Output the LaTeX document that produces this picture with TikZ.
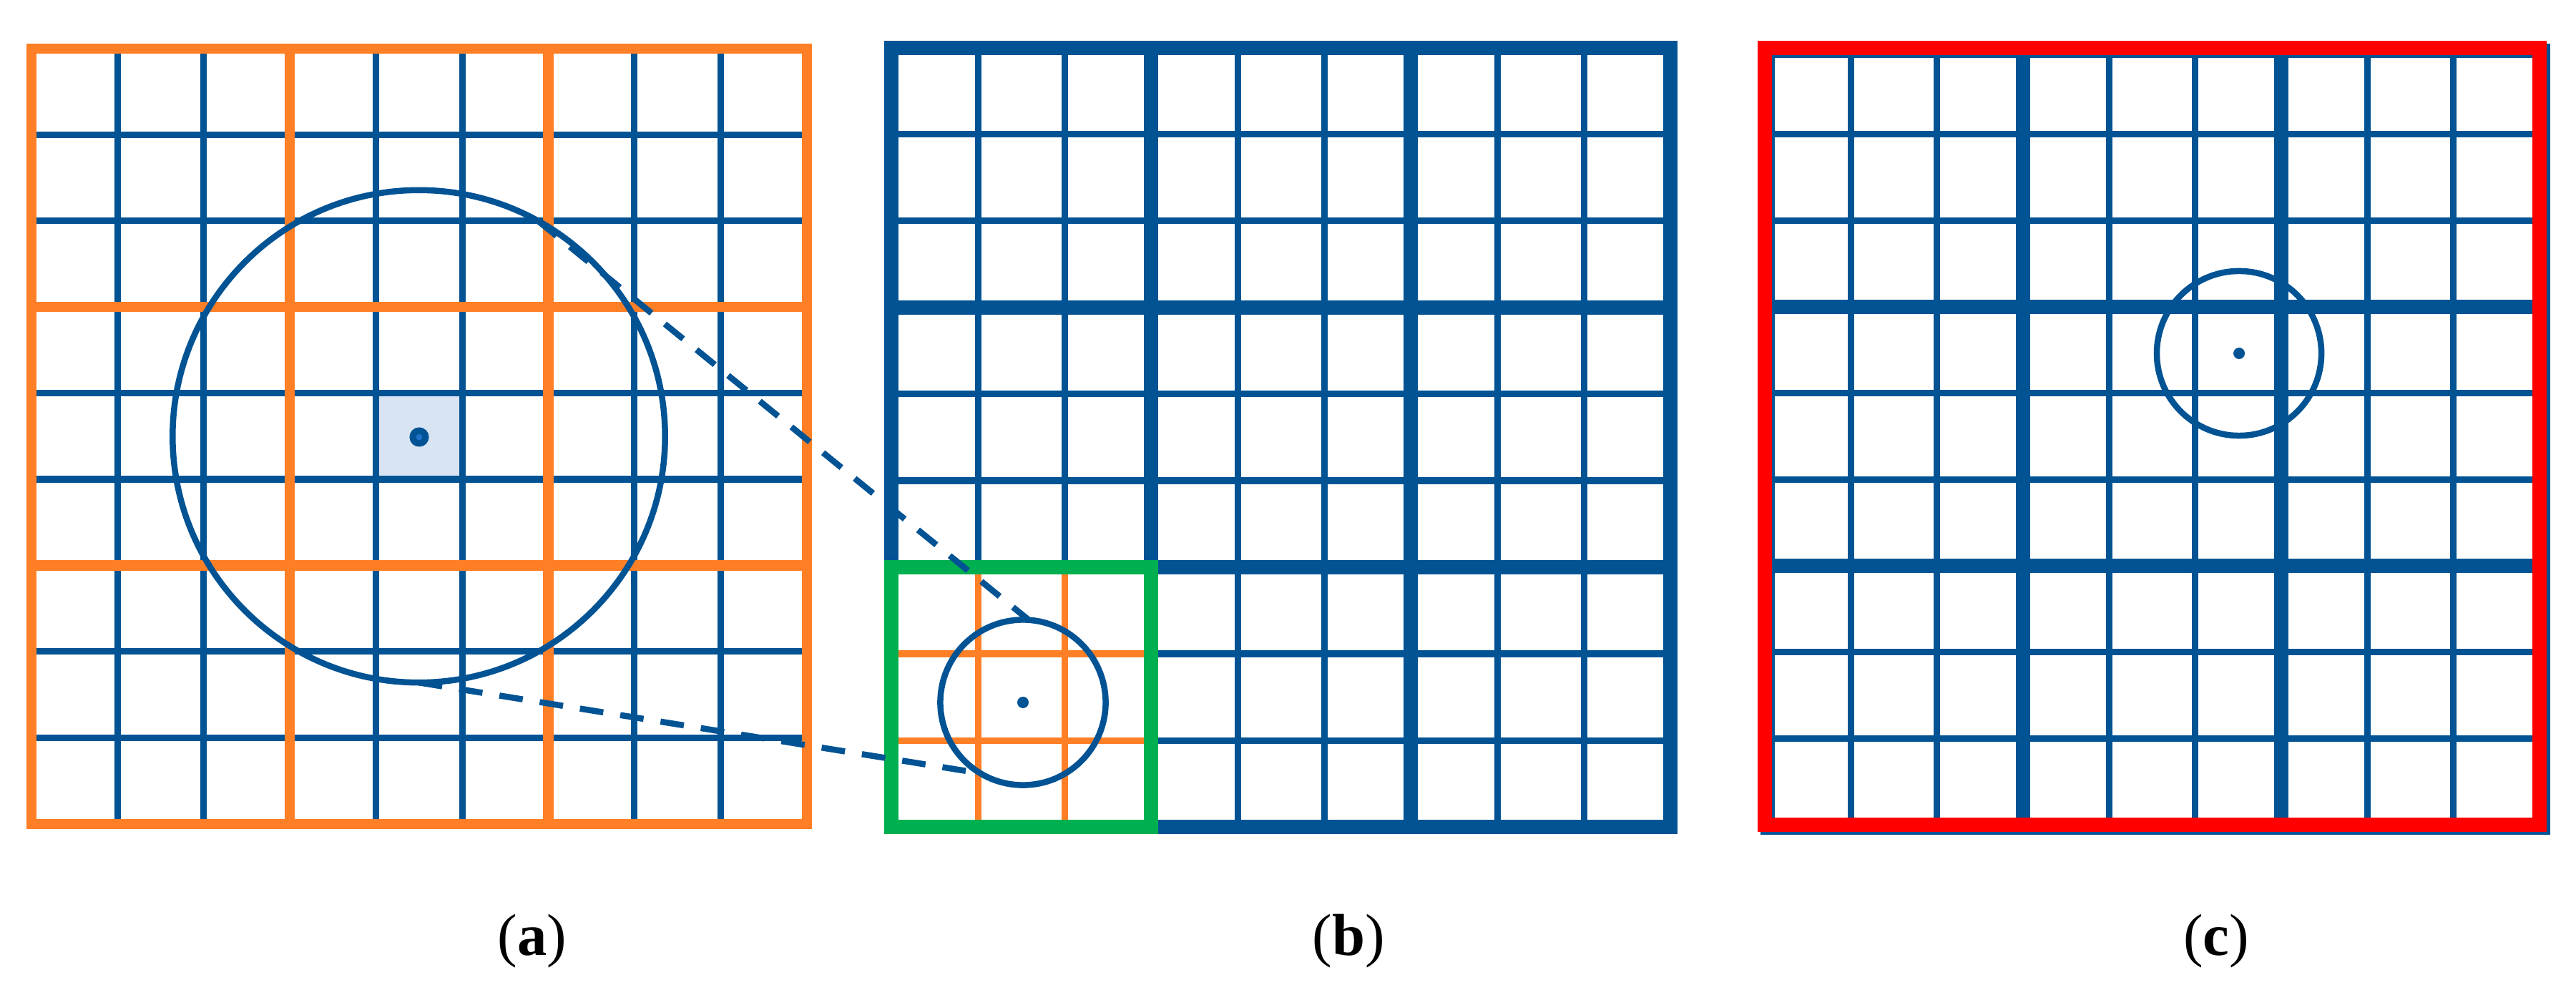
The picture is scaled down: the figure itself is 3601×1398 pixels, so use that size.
\documentclass[tikz,border=0pt]{standalone}
\usepackage{fontspec}
\setmainfont{Liberation Serif}
\usepackage{xcolor}
\usepackage{tikz}
\usetikzlibrary{positioning}
\definecolor{gridblue}{RGB}{2,83,148}
\definecolor{gridorange}{RGB}{255,127,39}
\definecolor{boxgreen}{RGB}{0,176,80}
\definecolor{boxred}{RGB}{255,0,0}
\definecolor{cellblue}{RGB}{217,228,243}
\definecolor{dotblue}{RGB}{30,112,200}

\begin{document}
\begin{tikzpicture}[x=0.01cm, y=-0.01cm]
\tikzstyle{fineline} = [gridblue, line width=0.09cm]
\tikzstyle{coarseline} = [gridblue, line width=0.2cm]
\tikzstyle{orangefine} = [gridorange, line width=0.09cm]
\tikzstyle{orangecoarse} = [gridorange, line width=0.145cm]
\tikzstyle{zoomcirc} = [circle, draw=gridblue, line width=0.085cm, inner sep=0pt, outer sep=0pt]
\tikzstyle{centerdot} = [circle, fill=gridblue, inner sep=0pt, minimum size=0.16cm]
\tikzstyle{zoomline} = [gridblue, line width=0.085cm, dash pattern=on 0.33cm off 0.24cm]
\tikzstyle{sublabel} = [anchor=base, inner sep=0pt, font=\fontsize{23.5}{28}\selectfont]
\useasboundingbox (0,0) rectangle (3601,1398);

% (a)
\begin{scope}[shift={(44,68)}]
\fill[cellblue] (4*120.4,4*120.4) rectangle (5*120.4,5*120.4);
\foreach \i in {1,2,4,5,7,8} {
  \draw[fineline] (\i*120.4,0) -- (\i*120.4,1084);
  \draw[fineline] (0,\i*120.4) -- (1084,\i*120.4);
}
\foreach \i in {3,6} {
  \draw[orangecoarse] (\i*120.4,0) -- (\i*120.4,1084);
  \draw[orangecoarse] (0,\i*120.4) -- (1084,\i*120.4);
}
\draw[orangecoarse] (0,0) rectangle (1084,1084);
\end{scope}
\node[zoomcirc, minimum size=6.88cm] (bigc) at (585.5,610) {};
\node[centerdot, fill=dotblue, draw=gridblue, line width=0.09cm, minimum size=0.18cm] (dota) at (586,611) {};

% (b)
\begin{scope}[shift={(1246,67)}]
\foreach \i in {1,2,4,5,7,8} {
  \draw[fineline] (\i*121,0) -- (\i*121,1089);
  \draw[fineline] (0,\i*121) -- (1089,\i*121);
}
\foreach \i in {1,2} {
  \draw[orangefine] (\i*121,726) -- (\i*121,1089);
  \draw[orangefine] (0,726+\i*121) -- (363,726+\i*121);
}
\foreach \i in {3,6} {
  \draw[coarseline] (\i*121,0) -- (\i*121,1089);
  \draw[coarseline] (0,\i*121) -- (1089,\i*121);
}
\draw[coarseline] (0,0) rectangle (1089,1089);
\draw[boxgreen, line width=0.2cm] (0,726) rectangle (363,1089);
\end{scope}
\node[zoomcirc, minimum size=2.31cm] (smallb) at (1430,982) {};
\node[centerdot] (dotb) at (1430,982) {};

% (c)
\begin{scope}[shift={(2467,67)}]
\foreach \i in {1,2,4,5,7,8} {
  \draw[fineline] (\i*120.3,0) -- (\i*120.3,1086);
  \draw[fineline] (0,\i*120.7) -- (1083,\i*120.7);
}
\foreach \i in {3,6} {
  \draw[coarseline] (\i*120.3,0) -- (\i*120.3,1086);
  \draw[coarseline] (0,\i*120.7) -- (1083,\i*120.7);
}
\draw[coarseline] (4,4) rectangle (1087.5,1089.5);
\draw[boxred, line width=0.2cm] (0,0) rectangle (1083,1086);
\end{scope}
\node[zoomcirc, minimum size=2.3cm] (smallc) at (3130,494) {};
\node[centerdot] (dotc) at (3130,494) {};

\draw[zoomline] (bigc.61) -- (smallb.86);
\draw[zoomline] (bigc.south) -- (smallb.239);

\node[sublabel] (lbla) at (744,1335) {(\textbf{a})};
\node[sublabel] (lblb) at (1885,1335) {(\textbf{b})};
\node[sublabel] (lblc) at (3098,1335) {(\textbf{c})};
\end{tikzpicture}
\end{document}
